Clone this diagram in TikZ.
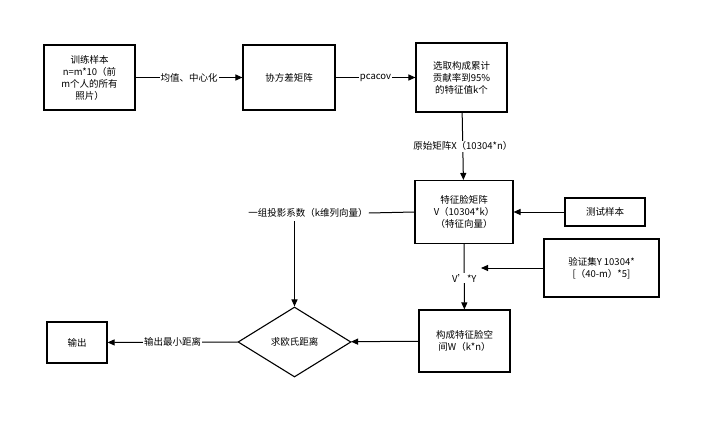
\documentclass[tikz,border=0pt]{standalone}
\usepackage{fontspec}
\setmainfont{Noto Sans CJK SC}
\usetikzlibrary{shapes.geometric,arrows.meta}
\begin{document}
\begin{tikzpicture}[x=1pt,y=-1pt,font=\fontsize{9.5}{12}\selectfont,
 box/.style={draw,line width=1.1pt,align=center,inner sep=1pt},
 arr/.style={-{Triangle[length=7pt,width=6pt]},line width=1pt},
 lab/.style={fill=white,inner sep=1pt}]
\useasboundingbox (0,0) rectangle (718,434);
\node[box,minimum width=91pt,minimum height=65pt] (train) at (89.5,77.5) {训练样本\\n=m*10（前\\m个人的所有\\照片）};
\node[box,minimum width=92pt,minimum height=65pt] (cov) at (289,77.5) {协方差矩阵};
\node[box,minimum width=91pt,minimum height=69pt] (sel) at (461.5,77.5) {选取构成累计\\贡献率到95\%\\的特征值k个};
\node[box,minimum width=98pt,minimum height=63pt] (eig) at (464,212) {特征脸矩阵\\V（10304*k）\\（特征向量）};
\node[box,minimum width=80pt,minimum height=28pt] (test) at (605,212) {测试样本};
\node[box,minimum width=115pt,minimum height=58pt] (val) at (601.5,268) {验证集Y 10304*\\{}[（40-m）*5]};
\node[box,minimum width=91pt,minimum height=62pt] (W) at (464.5,341) {构成特征脸空\\间W（k*n）};
\node[draw,line width=1.1pt,diamond,aspect=1.6,minimum width=113pt,minimum height=70pt,inner sep=0pt] (dia) at (294.5,342) {求欧氏距离};
\node[box,minimum width=60pt,minimum height=41pt] (out) at (77,342.5) {输出};
\node[lab] (proj) at (308,213) {一组投影系数（k维列向量）};
\coordinate (vy) at (481,268);
\draw[arr] (train) -- node[lab]{均值、中心化} (cov);
\draw[arr] (cov) -- node[lab]{pcacov} (sel);
\draw[arr] (sel) -- node[lab]{原始矩阵X（10304*n）} (eig);
\draw[arr] (test) -- (eig);
\draw[arr] (eig) -- node[lab,pos=0.52]{V'*Y} (W);
\draw[arr] (val) -- (vy);
\draw[line width=1pt] (eig.west) -- (proj.east);
\draw[arr] (294.5,221) -- (dia.north);
\draw[arr] (W) -- (dia);
\draw[arr] (dia) -- node[lab]{输出最小距离} (out);
\end{tikzpicture}
\end{document}
